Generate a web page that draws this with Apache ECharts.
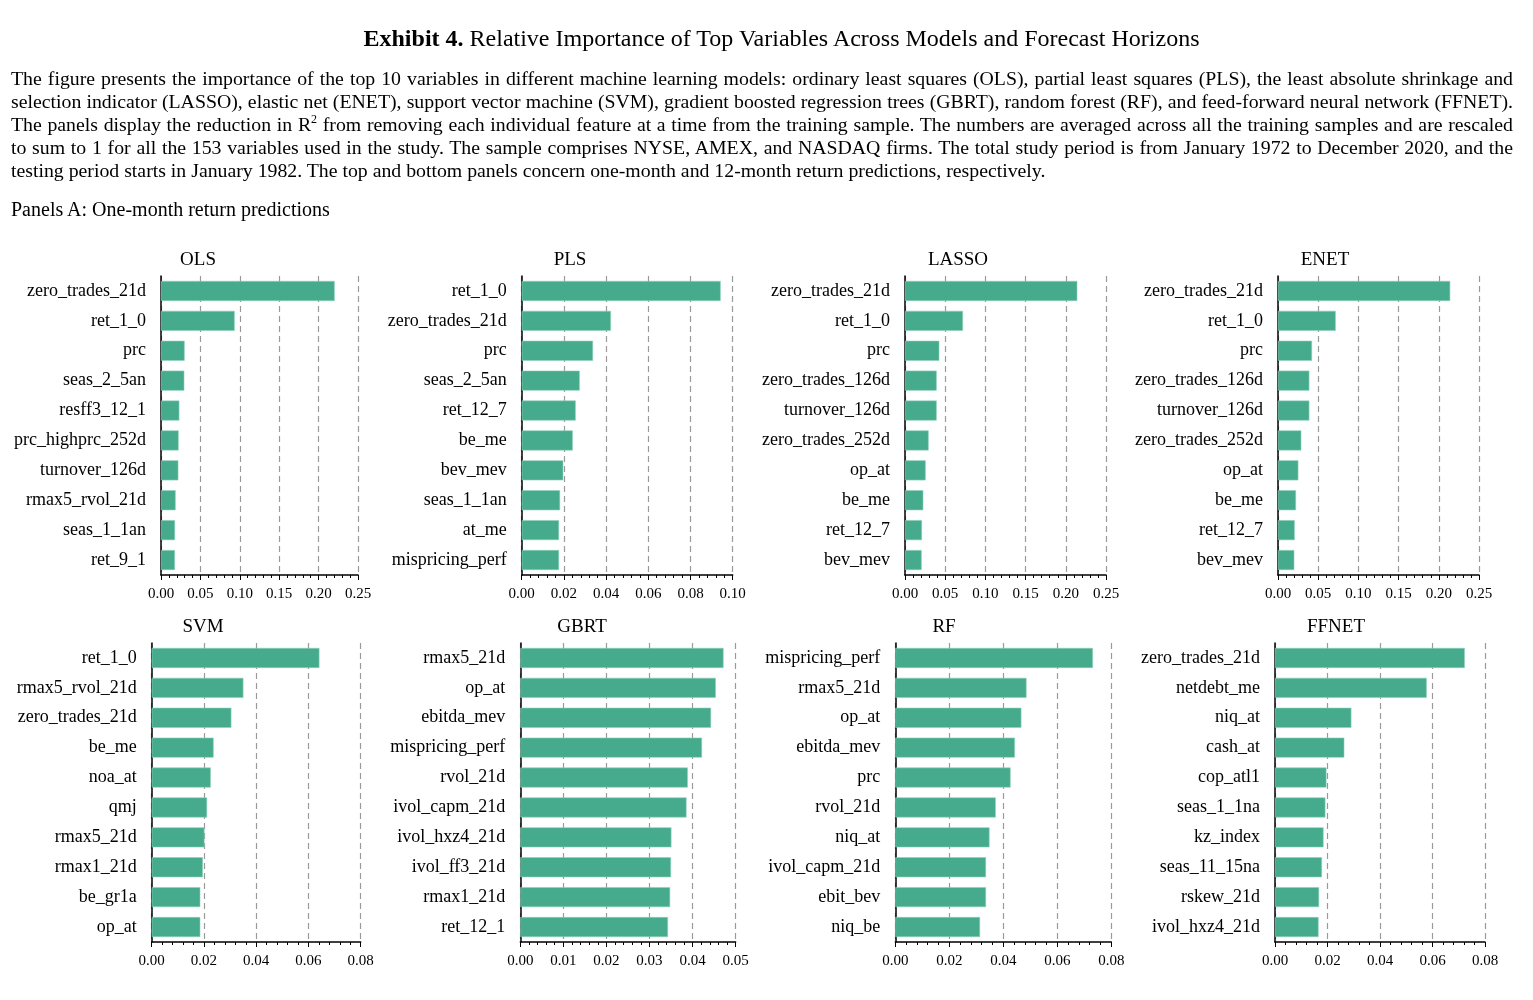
<!DOCTYPE html>
<html>
<head>
<meta charset="utf-8">
<script src="https://cdn.jsdelivr.net/npm/echarts@6/dist/echarts.min.js"></script>
<style>
  html, body { margin: 0; padding: 0; background: #fff; }
  body { width: 1533px; height: 1000px; position: relative; overflow: hidden; font-family: "Liberation Serif", "DejaVu Serif", serif; color: #000; }
  #chart { position: absolute; left: 0; top: 0; width: 1533px; height: 1000px; }
  #title { position: absolute; left: 0; width: 1533px; top: 23px; text-align: center; font-size: 24px; line-height: 30px; padding-left: 30px; box-sizing: border-box; }
  #para { position: absolute; left: 11px; width: 1502px; top: 67px; font-size: 19.8px; line-height: 23px; }
  #para .ln { white-space: nowrap; text-align: justify; text-align-last: justify; height: 23px; }
  #para .ln.last { text-align-last: left; }
  #panelA { position: absolute; left: 11px; top: 198px; font-size: 20px; line-height: 23px; }
</style>
</head>
<body>
<div id="chart"></div>
<div id="title"><b>Exhibit 4.</b> Relative Importance of Top Variables Across Models and Forecast Horizons</div>
<div id="para">
<div class="ln">The figure presents the importance of the top 10 variables in different machine learning models: ordinary least squares (OLS), partial least squares (PLS), the least absolute shrinkage and</div>
<div class="ln">selection indicator (LASSO), elastic net (ENET), support vector machine (SVM), gradient boosted regression trees (GBRT), random forest (RF), and feed-forward neural network (FFNET).</div>
<div class="ln">The panels display the reduction in R<sup style="font-size:12px;line-height:0">2</sup> from removing each individual feature at a time from the training sample. The numbers are averaged across all the training samples and are rescaled</div>
<div class="ln">to sum to 1 for all the 153 variables used in the study. The sample comprises NYSE, AMEX, and NASDAQ firms. The total study period is from January 1972 to December 2020, and the</div>
<div class="ln last">testing period starts in January 1982. The top and bottom panels concern one-month and 12-month return predictions, respectively.</div>
</div>
<div id="panelA">Panels A: One-month return predictions</div>
<script>
// ---- Data ----
const modelNames = ["OLS", "PLS", "LASSO", "ENET", "SVM", "GBRT", "RF", "FFNET"];

const olsVars = ["zero_trades_21d", "ret_1_0", "prc", "seas_2_5an", "resff3_12_1", "prc_highprc_252d", "turnover_126d", "rmax5_rvol_21d", "seas_1_1an", "ret_9_1"];
const olsVals = [0.2204, 0.0935, 0.0300, 0.0296, 0.0233, 0.0224, 0.0220, 0.0186, 0.0178, 0.0177];

const plsVars = ["ret_1_0", "zero_trades_21d", "prc", "seas_2_5an", "ret_12_7", "be_me", "bev_mev", "seas_1_1an", "at_me", "mispricing_perf"];
const plsVals = [0.0943, 0.0423, 0.0338, 0.0275, 0.0256, 0.0242, 0.0197, 0.0182, 0.0177, 0.0177];

const lassoVars = ["zero_trades_21d", "ret_1_0", "prc", "zero_trades_126d", "turnover_126d", "zero_trades_252d", "op_at", "be_me", "ret_12_7", "bev_mev"];
const lassoVals = [0.2143, 0.0721, 0.0427, 0.0394, 0.0394, 0.0294, 0.0257, 0.0228, 0.0211, 0.0207];

const enetVars = ["zero_trades_21d", "ret_1_0", "prc", "zero_trades_126d", "turnover_126d", "zero_trades_252d", "op_at", "be_me", "ret_12_7", "bev_mev"];
const enetVals = [0.2142, 0.0718, 0.0423, 0.0390, 0.0390, 0.0290, 0.0253, 0.0224, 0.0208, 0.0203];

const svmVars = ["ret_1_0", "rmax5_rvol_21d", "zero_trades_21d", "be_me", "noa_at", "qmj", "rmax5_21d", "rmax1_21d", "be_gr1a", "op_at"];
const svmVals = [0.0642, 0.0351, 0.0305, 0.0237, 0.0226, 0.0212, 0.0202, 0.0196, 0.0186, 0.0186];

const gbrtVars = ["rmax5_21d", "op_at", "ebitda_mev", "mispricing_perf", "rvol_21d", "ivol_capm_21d", "ivol_hxz4_21d", "ivol_ff3_21d", "rmax1_21d", "ret_12_1"];
const gbrtVals = [0.0472, 0.0454, 0.0443, 0.0422, 0.0389, 0.0386, 0.0351, 0.0350, 0.0348, 0.0343];

const rfVars = ["mispricing_perf", "rmax5_21d", "op_at", "ebitda_mev", "prc", "rvol_21d", "niq_at", "ivol_capm_21d", "ebit_bev", "niq_be"];
const rfVals = [0.0732, 0.0486, 0.0467, 0.0443, 0.0427, 0.0372, 0.0349, 0.0336, 0.0336, 0.0314];

const ffnetVars = ["zero_trades_21d", "netdebt_me", "niq_at", "cash_at", "cop_atl1", "seas_1_1na", "kz_index", "seas_11_15na", "rskew_21d", "ivol_hxz4_21d"];
const ffnetVals = [0.0723, 0.0578, 0.0291, 0.0264, 0.0196, 0.0192, 0.0185, 0.0179, 0.0168, 0.0166];

// axis maxima and tick intervals
const axisMax = [0.25, 0.10, 0.25, 0.25, 0.08, 0.05, 0.08, 0.08];
const axisInterval = [0.05, 0.02, 0.05, 0.05, 0.02, 0.01, 0.02, 0.02];

// ---- Layout ----
const allVars = [olsVars, plsVars, lassoVars, enetVars, svmVars, gbrtVars, rfVars, ffnetVars];
const allVals = [olsVals, plsVals, lassoVals, enetVals, svmVals, gbrtVals, rfVals, ffnetVals];
const gridBoxes = [
  [161, 276, 197, 299], [521.7, 276, 211, 299], [905, 276, 201, 299], [1278, 276, 201, 299],
  [151.7, 643, 209, 299], [520.3, 643, 215.3, 299], [895.3, 643, 216, 299], [1275, 643, 210, 299]
];
const titlePos = [[198, 260], [570, 260], [958, 260], [1325, 260], [203, 627], [582, 627], [944, 627], [1336, 627]];

const FONT = '"Liberation Serif", "DejaVu Serif", serif';
const BAR = '#45ab8c';

const grid = [], xAxis = [], yAxis = [], series = [], graphic = [];
for (let i = 0; i < 8; i++) {
  const b = gridBoxes[i];
  grid.push({ left: b[0], top: b[1], width: b[2], height: b[3], containLabel: false });
  xAxis.push({
    type: 'value', gridIndex: i, min: 0, max: axisMax[i], interval: axisInterval[i],
    axisLine: { show: true, onZero: false, lineStyle: { color: '#000', width: 1.5 } },
    axisTick: { show: true, length: 5, lineStyle: { color: '#000' } },
    minorTick: { show: true, splitNumber: 5, length: 3, lineStyle: { color: '#000' } },
    axisLabel: { fontFamily: FONT, fontSize: 15, color: '#000', margin: 12, formatter: v => v.toFixed(2) },
    splitLine: { show: true, lineStyle: { color: '#9a9a9a', type: [6, 4], width: 1.2 } },
    minorSplitLine: { show: false }
  });
  yAxis.push({
    type: 'category', gridIndex: i, inverse: true, data: allVars[i],
    axisLine: { show: true, lineStyle: { color: '#000', width: 1.5 } },
    axisTick: { show: false },
    axisLabel: { fontFamily: FONT, fontSize: 18, color: '#000', margin: 15 },
    splitLine: { show: false }
  });
  series.push({
    type: 'bar', xAxisIndex: i, yAxisIndex: i, data: allVals[i],
    barCategoryGap: '33%',
    itemStyle: { color: BAR, borderColor: '#8fd0b9', borderWidth: 0.6 },
    silent: true
  });
  graphic.push({
    type: 'text', x: titlePos[i][0], y: titlePos[i][1],
    style: { text: modelNames[i], fontFamily: FONT, fontSize: 19, fill: '#000', align: 'center', verticalAlign: 'middle' }
  });
}

const chart = echarts.init(document.getElementById('chart'), null, { renderer: 'canvas' });
chart.setOption({
  animation: false,
  backgroundColor: '#fff',
  grid, xAxis, yAxis, series, graphic
});
</script>
</body>
</html>
